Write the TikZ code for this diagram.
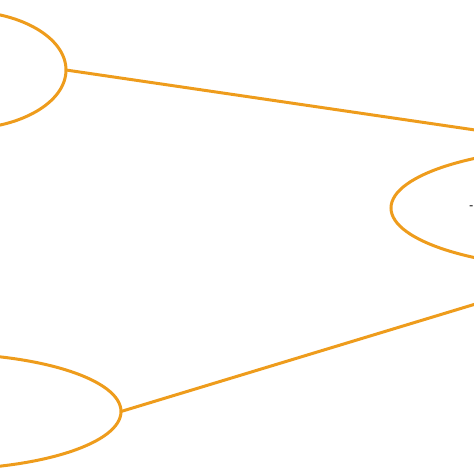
\documentclass[tikz,border=0pt]{standalone}
\usetikzlibrary{shapes.geometric}
\definecolor{edgeorange}{HTML}{EE9C1C}
\tikzset{
  oval/.style={ellipse, draw=edgeorange, line width=3pt, inner sep=0pt, outer sep=0pt},
  link/.style={draw=edgeorange, line width=3pt},
}
\begin{document}
\begin{tikzpicture}[x=1pt,y=-1pt]
\useasboundingbox (0,0) rectangle (474,474);
\node[oval, minimum width=206pt, minimum height=118pt] (tl) at (-37,70) {};
\node[oval, minimum width=364pt, minimum height=116pt] (bl) at (-61,411.5) {};
\node[oval, minimum width=400pt, minimum height=122pt] (rt) at (591,208) {};
\node[anchor=west, inner sep=0pt, font=\normalsize\bfseries] (lbl) at (469.5,207) {-};
\draw[link] (tl.east) -- (rt.north);
\draw[link] (bl.east) -- (rt.south);
\end{tikzpicture}
\end{document}
